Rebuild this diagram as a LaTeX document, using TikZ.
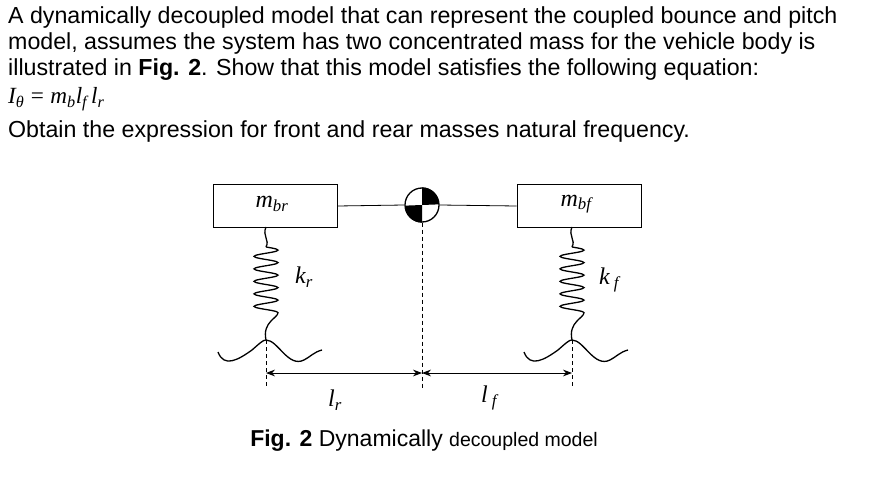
\documentclass[tikz,border=0pt]{standalone}
\usepackage{fontspec}
\setmainfont{Liberation Sans}
\newfontfamily\serifx{Liberation Serif}
\usetikzlibrary{arrows.meta}
\newcommand{\mi}[1]{{\serifx\itshape #1}}
\newcommand{\sbx}[1]{\textsubscript{\serifx\itshape #1}}
\begin{document}
\begin{tikzpicture}[x=1pt,y=-1pt,
  txt/.style={anchor=base west,inner sep=0pt,font=\fontsize{23.2}{26}\selectfont},
  box/.style={draw,line width=1pt,minimum width=124pt,minimum height=42pt,inner sep=0pt},
  wire/.style={line width=1.3pt},
  dim/.style={line width=0.9pt,{Stealth[length=9pt]}-{Stealth[length=9pt]}},
  dsh/.style={dashed,dash pattern=on 4pt off 3pt,line width=0.8pt},
  mlab/.style={inner sep=0pt,font=\fontsize{24}{24}\selectfont}]
\useasboundingbox (0,0) rectangle (880,481);
\node[txt] (t1) at (8,24) {A dynamically decoupled model that can represent the coupled bounce and pitch};
\node[txt] (t2) at (8,50) {model, assumes the system has two concentrated mass for the vehicle body is};
\node[txt] (t3) at (8,76) {illustrated in \textbf{Fig. 2}. Show that this model satisfies the following equation:};
\node[txt] (t4) at (8,104) {\mi{I}\sbx{θ} {\serifx =} \mi{m}\sbx{b}\mi{l}\sbx{f}\,\mi{l}\sbx{r}};
\node[txt] (t5) at (8,138) {Obtain the expression for front and rear masses natural frequency.};
% boxes
\node[box] (br) at (275,206) {};
\node[box] (bf) at (579,206) {};
\node[mlab] (lbr) at (272,204) {\mi{m}\sbx{br}};
\node[mlab] (lbf) at (576,204) {\mi{m}\sbx{bf}};
\node[draw,circle,line width=1.3pt,minimum size=34pt,inner sep=0pt] (cg) at (422,205) {};
\fill (cg.center) -- (cg.north) arc[start angle=90,end angle=0,radius=17pt] -- cycle;
\fill (cg.center) -- (cg.south) arc[start angle=270,end angle=180,radius=17pt] -- cycle;
\draw[line width=0.8pt] (br.east) -- (cg.west);
\draw[line width=0.8pt] (cg.east) -- (bf.west);
% springs and road
\draw[wire] (266,227) .. controls (262,236) and (270,240) .. (266,247)
   plot[smooth,domain=0:5.25,samples=64] ({266+12*sin(360*\x)},{247+12.5*\x})
   .. controls (278,318) and (262,322) .. (266,340);
\draw[wire] (572,227) .. controls (568,236) and (576,240) .. (572,247)
   plot[smooth,domain=0:5.25,samples=64] ({572+12*sin(360*\x)},{247+12.5*\x})
   .. controls (584,318) and (568,322) .. (572,340);
\foreach \x in {266,572}{
  \draw[wire] (\x-48,352) .. controls (\x-42,368) and (\x-28,360) .. (\x-14,350)
     .. controls (\x-6,343) and (\x-3,340) .. (\x,340)
     .. controls (\x+12,340) and (\x+22,368) .. (\x+38,360)
     .. controls (\x+44,357) and (\x+48,352) .. (\x+56,350);
}
\coordinate (dr) at (266,373);
\coordinate (dc) at (422,373);
\coordinate (df) at (572,373);
\draw[dsh] (266,340) -- (266,388);
\draw[dsh] (572,340) -- (572,388);
\draw[dsh] (cg.south) -- (422,390);
\draw[dim] (dr) -- (dc);
\draw[dim] (dc) -- (df);
\node[mlab] (lr) at (335,400) {\mi{l}\sbx{r}};
\node[mlab] (lf) at (489,398) {\mi{l}\,\sbx{f}};
\node[mlab] (kr) at (304,277) {\mi{k}\sbx{r}};
\node[mlab] (kf) at (609,280) {\mi{k}\,\sbx{f}};
\node[inner sep=0pt,anchor=base] (cap) at (424,446) {\fontsize{23}{26}\selectfont\textbf{Fig. 2} Dynamically {\fontsize{19.5}{22}\selectfont decoupled model}};
\end{tikzpicture}
\end{document}
